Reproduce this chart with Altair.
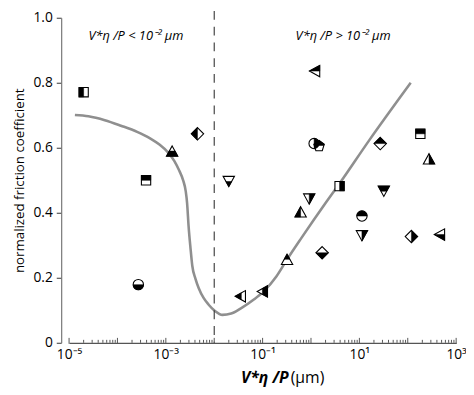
import altair as alt
import pandas as pd

# ---------------- data ----------------
pt_x = [2.0e-5, 2.7e-4, 3.9e-4, 1.35e-3, 4.5e-3, 0.020, 0.035, 0.10, 0.32, 0.61,
        0.92, 1.2, 1.16, 1.47, 1.7, 3.9, 11.3, 11.3, 27, 32, 182, 119, 275, 457]
pt_y = [0.771, 0.179, 0.50, 0.589, 0.643, 0.497, 0.143, 0.158, 0.256, 0.402,
        0.443, 0.836, 0.613, 0.607, 0.277, 0.482, 0.39, 0.330, 0.613, 0.467,
        0.643, 0.327, 0.565, 0.333]
pt_marker = ["square", "circle", "square", "tri-up", "diamond", "tri-down", "tri-left",
             "tri-left", "tri-up", "tri-up", "tri-down", "tri-left", "circle", "pentagon",
             "diamond", "square", "circle", "tri-down", "diamond", "tri-down", "square",
             "diamond", "tri-up", "tri-left"]
pt_fill = ["left", "bottom", "top", "bottom", "left", "bottom", "left", "right", "top",
           "left", "right", "top", "right", "top", "bottom", "right", "top", "right",
           "top", "top", "top", "right", "right", "bottom"]

curve_x = [1.32e-5, 2.52e-5, 5.47e-5, 1.18e-4, 2.55e-4, 4.72e-4, 7.5e-4, 1.107e-3,
           1.503e-3, 1.89e-3, 2.28e-3, 2.58e-3, 2.75e-3, 2.95e-3, 3.24e-3, 3.52e-3,
           4.1e-3, 4.79e-3, 6.03e-3, 7.6e-3, 1.035e-2, 1.48e-2, 2.24e-2, 3.56e-2,
           6.59e-2, 0.105, 0.194, 0.316, 0.631, 2.0, 3.89, 15.8, 115]
curve_y = [0.701, 0.697, 0.685, 0.668, 0.649, 0.629, 0.609, 0.586,
           0.559, 0.530, 0.500, 0.466, 0.43, 0.36, 0.29, 0.237,
           0.197, 0.168, 0.138, 0.118, 0.098, 0.086, 0.090, 0.106,
           0.133, 0.158, 0.205, 0.255, 0.322, 0.43, 0.49, 0.622, 0.80]

threshold = [0.01]
decades = [1e-5, 1e-4, 1e-3, 1e-2, 1e-1, 1e0, 1e1, 1e2, 1e3]
minor_mult = [2, 3, 4, 5, 6, 7, 8, 9]
label_values = [1e-5, 1e-3, 1e-1, 1e1, 1e3]
label_texts = ["10\u207b\u2075", "10\u207b\u00b3", "10\u207b\u00b9", "10\u00b9", "10\u00b3"]
y_ticks = [0, 0.2, 0.4, 0.6, 0.8, 1.0]

ann_x = [2.4e-4, 4.6]
ann_y = [0.945, 0.945]
ann_text = ["V*\u03b7 /P < 10\u207b\u00b2 \u03bcm", "V*\u03b7 /P > 10\u207b\u00b2 \u03bcm"]

# ---------------- marker shapes ----------------
full_paths = {
    "square": "M-0.9,-0.9H0.9V0.9H-0.9Z",
    "circle": "M1,0A1,1 0 1,1 -1,0A1,1 0 1,1 1,0Z",
    "tri-up": "M0,-1.05L1.1,0.95L-1.1,0.95Z",
    "tri-down": "M-1.1,-0.95L1.1,-0.95L0,1.05Z",
    "tri-left": "M-1.05,0L0.95,-1.1L0.95,1.1Z",
    "diamond": "M0,-1.2L1.2,0L0,1.2L-1.2,0Z",
    "pentagon": "M0,-1L1,-0.25L0.62,1L-0.62,1L-1,-0.25Z",
}
half_paths = {
    "square-left": "M-0.9,-0.9H0V0.9H-0.9Z",
    "square-right": "M0,-0.9H0.9V0.9H0Z",
    "square-top": "M-0.9,-0.9H0.9V0H-0.9Z",
    "square-bottom": "M-0.9,0H0.9V0.9H-0.9Z",
    "circle-bottom": "M-1,0A1,1 0 0,0 1,0Z",
    "circle-top": "M-1,0A1,1 0 0,1 1,0Z",
    "circle-right": "M0,-1A1,1 0 0,1 0,1Z",
    "circle-left": "M0,-1A1,1 0 0,0 0,1Z",
    "tri-up-bottom": "M-0.575,-0.05L0.575,-0.05L1.1,0.95L-1.1,0.95Z",
    "tri-up-top": "M0,-1.05L0.575,-0.05L-0.575,-0.05Z",
    "tri-up-left": "M0,-1.05L0,0.95L-1.1,0.95Z",
    "tri-up-right": "M0,-1.05L1.1,0.95L0,0.95Z",
    "tri-down-bottom": "M-0.575,0.05L0.575,0.05L0,1.05Z",
    "tri-down-top": "M-1.1,-0.95L1.1,-0.95L0.575,0.05L-0.575,0.05Z",
    "tri-down-left": "M-1.1,-0.95L0,-0.95L0,1.05Z",
    "tri-down-right": "M0,-0.95L1.1,-0.95L0,1.05Z",
    "tri-left-left": "M-1.05,0L0.15,-0.66L0.15,0.66Z",
    "tri-left-right": "M-0.05,-0.55L0.95,-1.1L0.95,1.1L-0.05,0.55Z",
    "tri-left-top": "M-1.05,0L0.95,-1.1L0.95,0Z",
    "tri-left-bottom": "M-1.05,0L0.95,0L0.95,1.1Z",
    "diamond-left": "M0,-1.2L0,1.2L-1.2,0Z",
    "diamond-right": "M0,-1.2L1.2,0L0,1.2Z",
    "diamond-top": "M-1.2,0L0,-1.2L1.2,0Z",
    "diamond-bottom": "M-1.2,0L1.2,0L0,1.2Z",
    "pentagon-top": "M0,-1L1,-0.25L0.924,0L-0.924,0L-1,-0.25Z",
}

pts = pd.DataFrame({"x": pt_x, "y": pt_y, "marker": pt_marker, "fill": pt_fill})
pts["half"] = pts["marker"] + "-" + pts["fill"]
curve = pd.DataFrame({"x": curve_x, "y": curve_y})
thr = pd.DataFrame({"x": threshold})
major = pd.DataFrame({"x": decades})
minor = pd.DataFrame({"x": [m * d for d in decades[:-1] for m in minor_mult]})
ann = pd.DataFrame({"x": ann_x, "y": ann_y, "t": ann_text})

W, H = 393, 330
FONT = "Open Sans"
MSIZE = 110

label_expr = " : ".join(
    f"datum.value < {v * 3:.6g} ? '{t}'" for v, t in zip(label_values[:-1], label_texts[:-1])
) + f" : '{label_texts[-1]}'"

xscale = alt.Scale(type="log", domain=[1e-5, 1e3], nice=False)
yscale = alt.Scale(domain=[0, 1.0], nice=False, zero=False)

xaxis = alt.Axis(values=label_values, labelExpr=label_expr, ticks=False, grid=False,
                 title=None, labelPadding=5, labelFontSize=14, labelFont=FONT,
                 labelColor="black", domainColor="#555", domainWidth=1.2,
                 labelFlush=False, labelOverlap=False)
yaxis = alt.Axis(values=y_ticks,
                 labelExpr="datum.value == 0 ? '0' : format(datum.value, '.1f')",
                 grid=False, offset=8, tickSize=5, tickColor="#555", tickWidth=1.2,
                 domainColor="#777", domainWidth=1.2, labelPadding=4,
                 labelFontSize=14, labelFont=FONT, labelColor="black",
                 title="normalized friction coefficient", titleFont=FONT,
                 titleFontSize=13.5, titleFontWeight="normal", titleColor="black",
                 titlePadding=7)

base = alt.Chart(curve).mark_line(color="#8f8f8f", strokeWidth=2.6,
                                  interpolate="monotone").encode(
    x=alt.X("x:Q", scale=xscale, axis=xaxis),
    y=alt.Y("y:Q", scale=yscale, axis=yaxis),
)

dashed = alt.Chart(thr).mark_rule(color="#333", strokeWidth=1.1,
                                  strokeDash=[9, 7]).encode(
    x=alt.X("x:Q", scale=xscale), y=alt.value(-7), y2=alt.value(H))

major_ticks = alt.Chart(major).mark_rule(color="#555", strokeWidth=1).encode(
    x=alt.X("x:Q", scale=xscale), y=alt.value(H - 5), y2=alt.value(H + 1))
minor_ticks = alt.Chart(minor).mark_rule(color="#555", strokeWidth=1).encode(
    x=alt.X("x:Q", scale=xscale), y=alt.value(H - 3), y2=alt.value(H))

full_dom = list(full_paths.keys())
half_dom = list(half_paths.keys())

open_marks = alt.Chart(pts).mark_point(filled=True, fill="white", stroke="black",
                                       strokeWidth=1.1, size=MSIZE, opacity=1).encode(
    x=alt.X("x:Q", scale=xscale), y=alt.Y("y:Q", scale=yscale),
    shape=alt.Shape("marker:N", scale=alt.Scale(domain=full_dom,
                                                range=[full_paths[k] for k in full_dom]),
                    legend=None),
)
half_marks = alt.Chart(pts).mark_point(filled=True, fill="black", stroke="black",
                                       strokeWidth=0.5, size=MSIZE, opacity=1).encode(
    x=alt.X("x:Q", scale=xscale), y=alt.Y("y:Q", scale=yscale),
    shape=alt.Shape("half:N", scale=alt.Scale(domain=half_dom,
                                              range=[half_paths[k] for k in half_dom]),
                    legend=None),
)

annot = alt.Chart(ann).mark_text(font=FONT, fontSize=13, fontStyle="italic",
                                 color="black").encode(
    x=alt.X("x:Q", scale=xscale), y=alt.Y("y:Q", scale=yscale), text="t:N")

xt1 = alt.Chart(ann.head(1)).mark_text(font=FONT, fontSize=16, fontStyle="italic",
                                       fontWeight="bold", align="right",
                                       color="black").encode(
    x=alt.value(223), y=alt.value(H + 36), text=alt.value("V*\u03b7 /P"))
xt2 = alt.Chart(ann.head(1)).mark_text(font=FONT, fontSize=16, align="left",
                                       color="black").encode(
    x=alt.value(225), y=alt.value(H + 36), text=alt.value("(\u03bcm)"))

chart = alt.layer(base, dashed, major_ticks, minor_ticks, open_marks, half_marks,
                  annot, xt1, xt2).resolve_scale(shape="independent").properties(
    width=W, height=H,
    autosize=alt.AutoSizeParams(type="none"),
    padding={"left": 62, "top": 7, "right": 10, "bottom": 46},
).configure_view(stroke=None)

chart.save("out.html", embed_options={"renderer": "svg", "actions": False})
